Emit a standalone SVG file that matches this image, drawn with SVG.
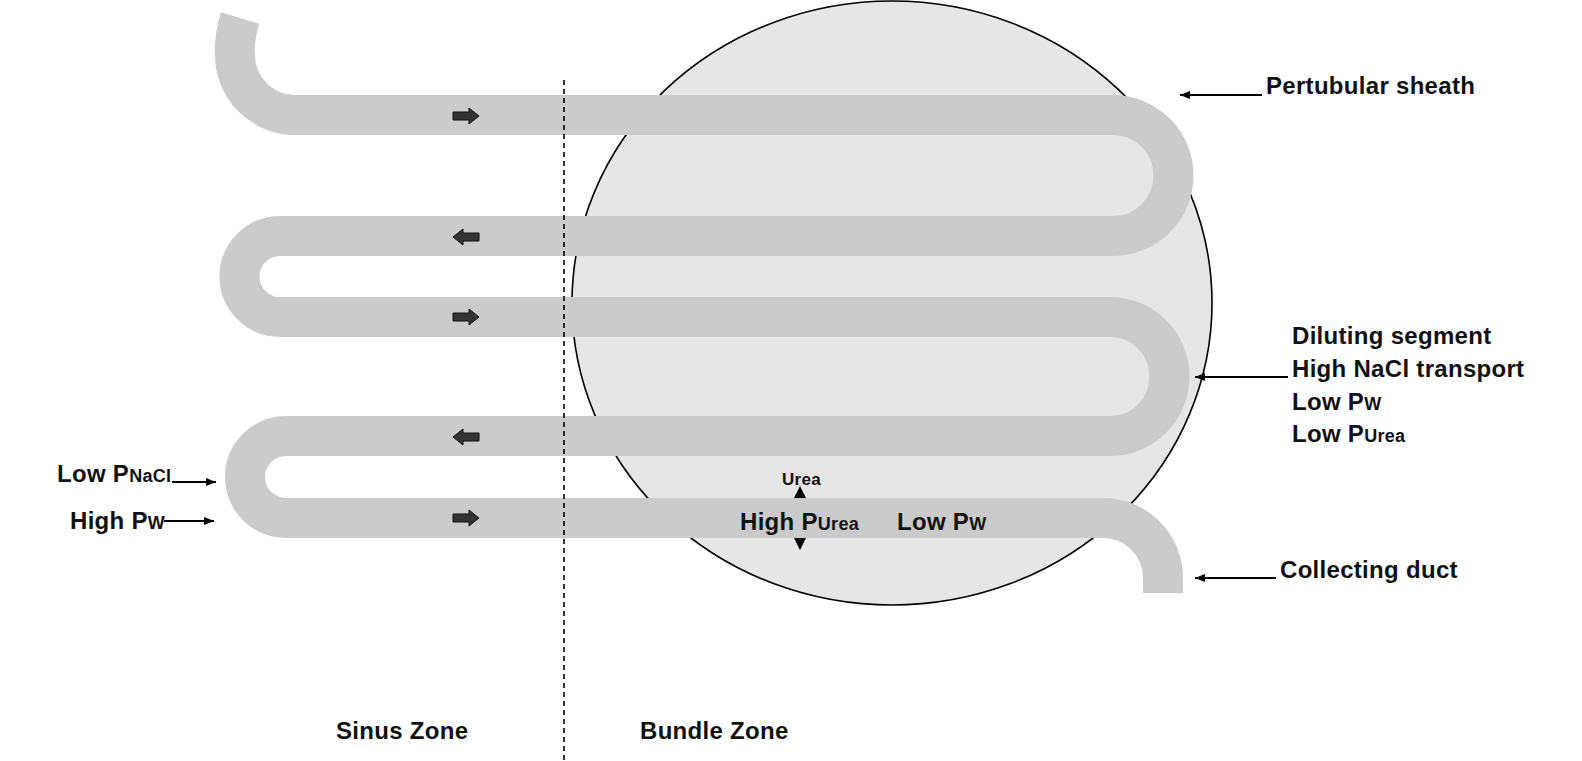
<svg xmlns="http://www.w3.org/2000/svg" width="1582" height="761" viewBox="0 0 1582 761">
<style>
text{font-family:"Liberation Sans",Arial,sans-serif;font-weight:bold;fill:#111;font-size:24px;letter-spacing:0.3px}
.s{font-size:18px}
.lead{stroke:#000;stroke-width:1.8;fill:none;marker-end:url(#ah)}
.flow{fill:#333;stroke:#111;stroke-width:1}
</style>
<defs>
<marker id="ah" viewBox="0 0 10 10" refX="10" refY="5" markerWidth="11" markerHeight="10" orient="auto" markerUnits="userSpaceOnUse"><path d="M0,1 L10,5 L0,9 z" fill="#000"/></marker>
<path id="ra" d="M-13,-4 L3,-4 L3,-8 L13,0 L3,8 L3,4 L-13,4 z"/>
</defs>
<rect width="1582" height="761" fill="#fff"/>
<g id="sheath"><ellipse cx="892" cy="303" rx="320" ry="302" fill="#e6e6e6" stroke="#000" stroke-width="1.6"/></g>
<g id="tubule">
<path d="M240,18 Q234,38 235,55 A60,60 0 0 0 295,115 L1113,115 A60.5,60.5 0 0 1 1113,236 L280,236 A40.5,40.5 0 0 0 280,317 L1110,317 A59.5,59.5 0 0 1 1110,436 L286,436 A41,41 0 0 0 286,518 L1100,518 A60,60 0 0 1 1163,578 L1163,593" fill="none" stroke="#cbcbcb" stroke-width="40"/>
</g>
<g id="flow-arrows" class="flow">
<use href="#ra" x="466" y="116"/>
<use href="#ra" x="466" y="237" transform="rotate(180 466 237)"/>
<use href="#ra" x="466" y="317"/>
<use href="#ra" x="466" y="437" transform="rotate(180 466 437)"/>
<use href="#ra" x="466" y="518"/>
</g>
<g id="zone-divider"><line x1="564" y1="80" x2="564" y2="761" stroke="#000" stroke-width="1.6" stroke-dasharray="5,4"/></g>
<g id="connectors">
<line class="lead" x1="1262" y1="95" x2="1180" y2="95"/>
<line class="lead" x1="1288" y1="377" x2="1195" y2="377"/>
<line class="lead" x1="1276" y1="578" x2="1195" y2="578"/>
<line class="lead" x1="172" y1="482" x2="216" y2="482"/>
<line class="lead" x1="164" y1="521" x2="214" y2="521"/>
<path d="M794,498 L800,486 L806,498 z M794,538 L800,550 L806,538 z" fill="#000"/>
</g>
<g id="labels">
<text x="1266" y="94">Pertubular sheath</text>
<text x="1292" y="344">Diluting segment</text>
<text x="1292" y="377">High NaCl transport</text>
<text x="1292" y="410">Low P<tspan class="s">W</tspan></text>
<text x="1292" y="442">Low P<tspan class="s">Urea</tspan></text>
<text x="1280" y="578">Collecting duct</text>
<text x="57" y="482">Low P<tspan class="s">NaCl</tspan></text>
<text x="70" y="529">High P<tspan class="s">W</tspan></text>
<text x="782" y="485" style="font-size:17px">Urea</text>
<text x="740" y="530">High P<tspan class="s">Urea</tspan></text>
<text x="897" y="530">Low P<tspan class="s">W</tspan></text>
<text x="336" y="739">Sinus Zone</text>
<text x="640" y="739">Bundle Zone</text>
</g>
</svg>
